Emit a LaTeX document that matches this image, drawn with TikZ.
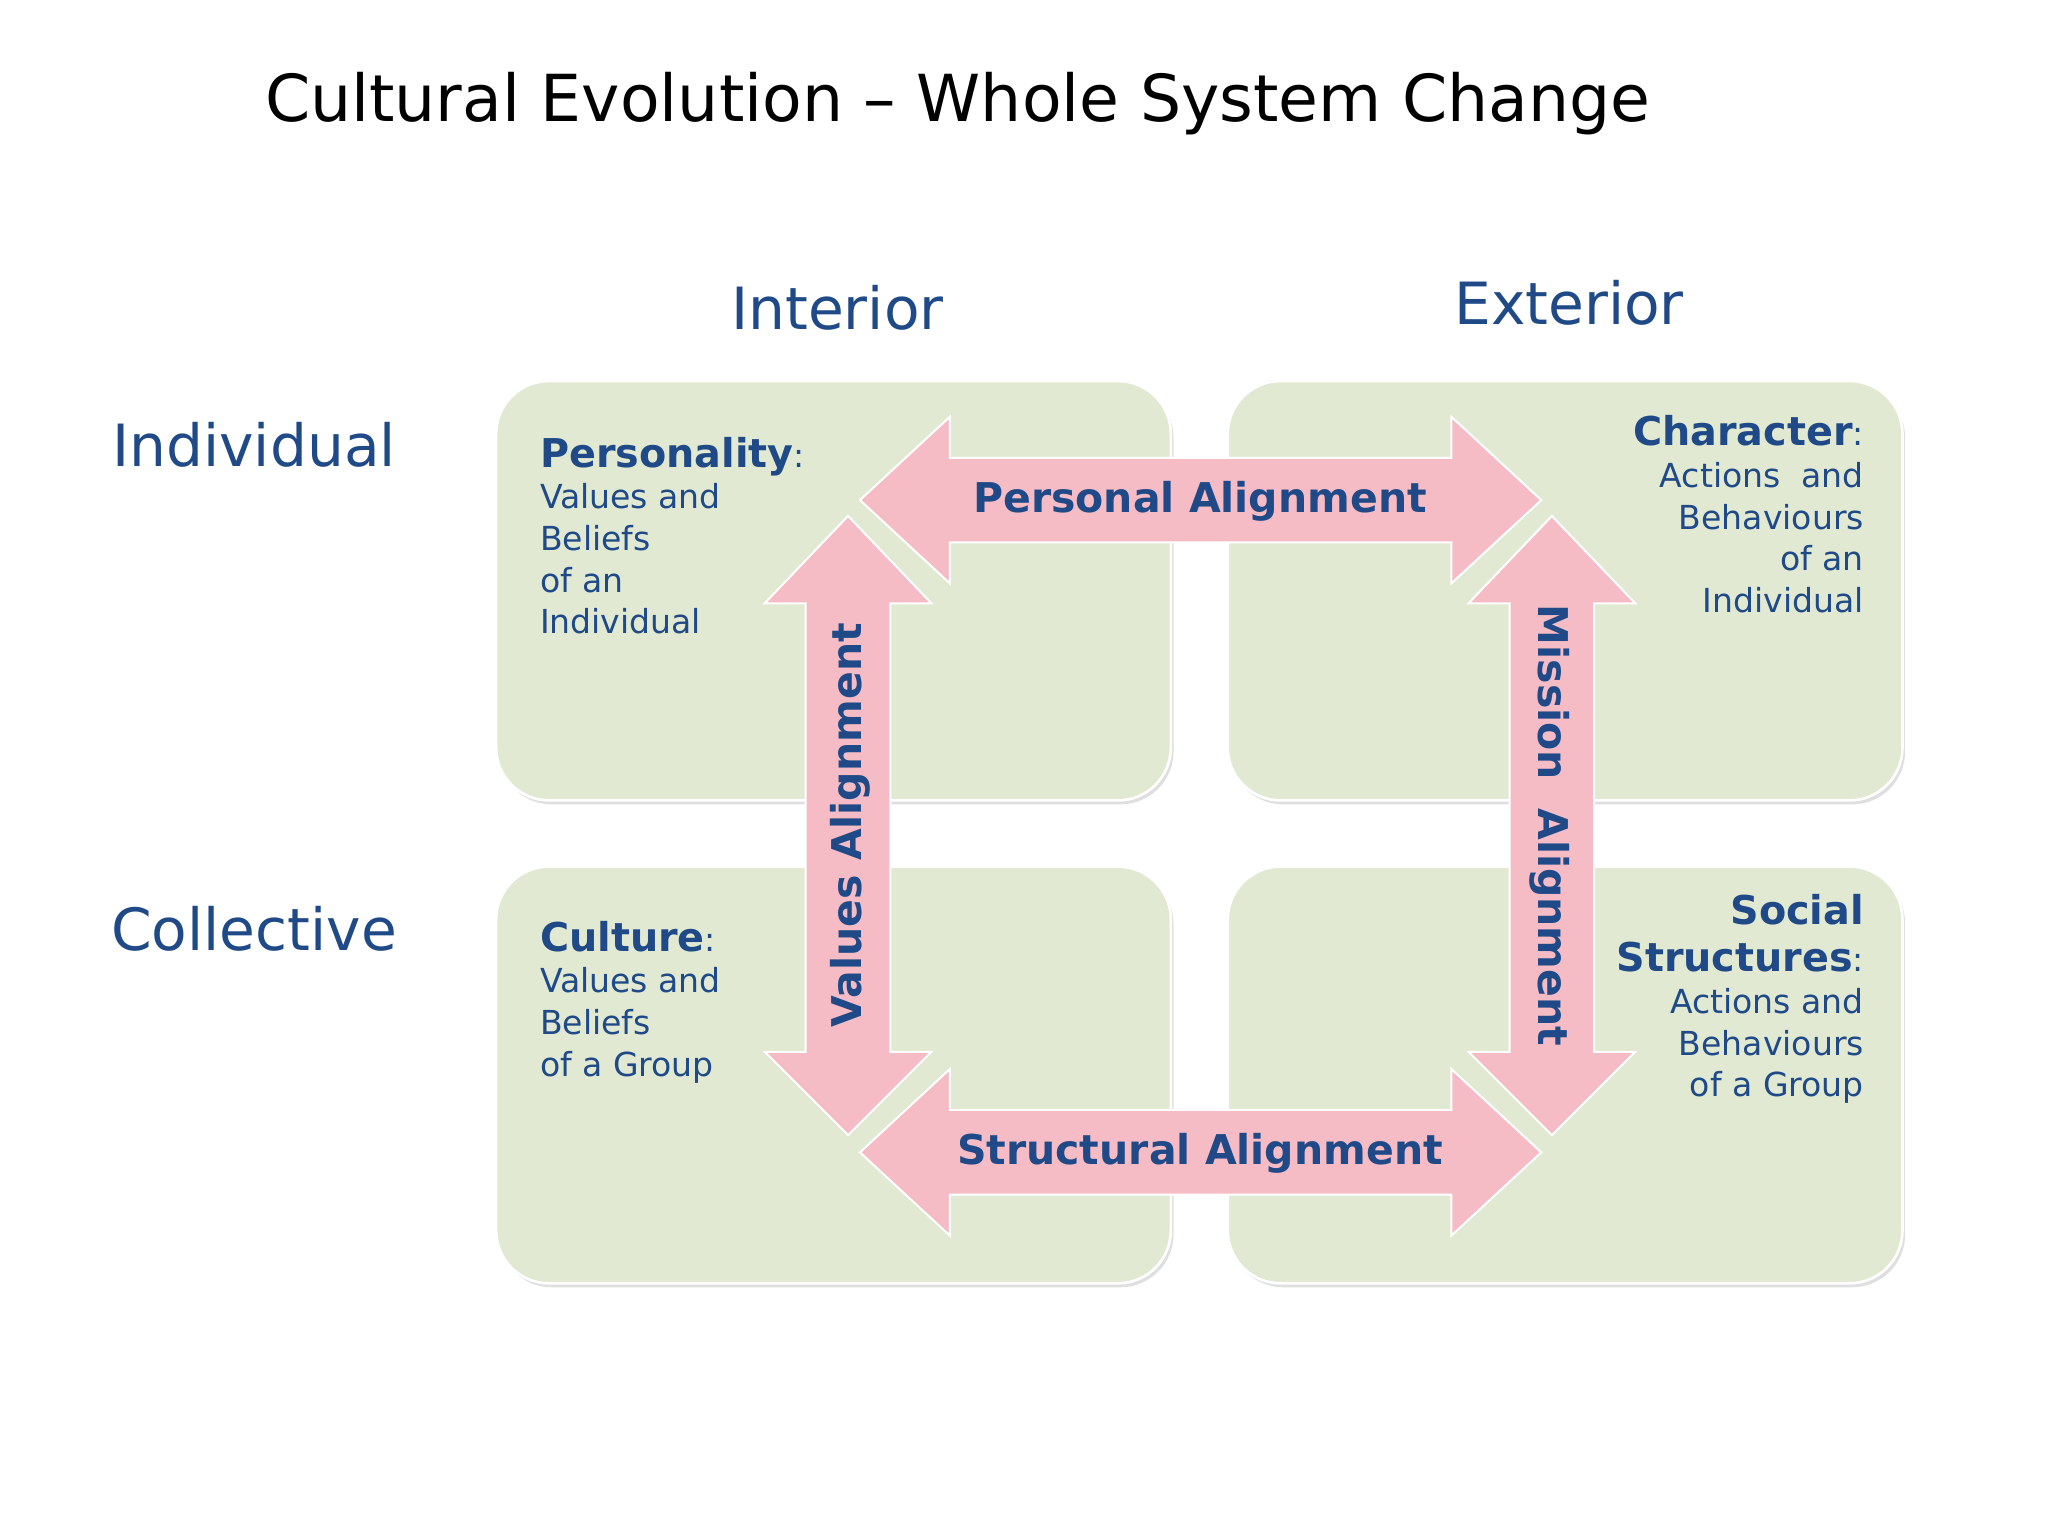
\documentclass[tikz,border=0pt]{standalone}
\usepackage{fontspec}
\setmainfont{DejaVu Sans}
\usetikzlibrary{shadows}
\definecolor{tblue}{HTML}{1F4A87}
\definecolor{bgreen}{HTML}{E1E9D3}
\definecolor{apink}{HTML}{F5BCC6}
\begin{document}
\begin{tikzpicture}[x=1pt,y=-1pt,
  quad/.style={fill=bgreen,draw=white,line width=2pt,rounded corners=40pt,drop shadow={shadow xshift=2pt,shadow yshift=-3pt,opacity=0.25}},
  arr/.style={fill=apink,draw=white,line width=1.5pt},
  lbl/.style={text=tblue,font=\fontsize{31}{36}\selectfont\bfseries,inner sep=0pt},
  side/.style={text=tblue,font=\fontsize{44}{50}\selectfont,inner sep=0pt},
  body/.style={text=tblue,font=\fontsize{25}{31.5}\selectfont,inner sep=0pt}]
\useasboundingbox (0,0) rectangle (1548,1161);
\fill[white] (0,0) rectangle (1548,1161);
\node[inner sep=0pt,font=\fontsize{49}{58}\selectfont] (title) at (724,78) {Cultural Evolution – Whole System Change};
\node[side] (int) at (633,233) {Interior};
\node[side] (ext) at (1186,229) {Exterior};
\node[side] (ind) at (192,336) {Individual};
\node[side] (col) at (192,702) {Collective};
\path[quad] (375,288) rectangle (885,605);
\path[quad] (928,288) rectangle (1438,605);
\path[quad] (375,655) rectangle (885,970);
\path[quad] (928,655) rectangle (1438,970);
% horizontal arrows
\foreach \cy in {378,871}{
 \path[arr] (650,\cy) -- (718,\cy-63) -- (718,\cy-32) -- (1097,\cy-32) -- (1097,\cy-63) -- (1165,\cy)
   -- (1097,\cy+63) -- (1097,\cy+32) -- (718,\cy+32) -- (718,\cy+63) -- cycle;}
\foreach \cx in {641,1173}{
 \path[arr] (\cx,390) -- (\cx+63,456) -- (\cx+32,456) -- (\cx+32,795) -- (\cx+63,795) -- (\cx,858)
   -- (\cx-63,795) -- (\cx-32,795) -- (\cx-32,456) -- (\cx-63,456) -- cycle;}
\node[lbl] (pa) at (907,379) {Personal Alignment};
\node[lbl] (sa) at (907,872) {Structural Alignment};
\node[lbl,rotate=90] (va) at (643,624) {Values Alignment};
\node[lbl,rotate=-90] (ma) at (1171,624) {Mission~ Alignment};
\node[body,anchor=north west,align=left] (pers) at (408,330) {{\fontsize{30}{36}\selectfont\bfseries Personality}:\\Values and\\Beliefs\\of an\\Individual};
\node[body,anchor=north west,align=left] (cult) at (408,696) {{\fontsize{30}{36}\selectfont\bfseries Culture}:\\Values and\\Beliefs\\of a Group};
\node[body,anchor=north east,align=right] (char) at (1409,314) {{\fontsize{30}{36}\selectfont\bfseries Character}:\\Actions~ and\\Behaviours\\of an\\Individual};
\node[body,anchor=north east,align=right] (soc) at (1409,676) {{\fontsize{30}{36}\selectfont\bfseries Social}\\[4pt]{\fontsize{30}{36}\selectfont\bfseries Structures}:\\Actions and\\Behaviours\\of a Group};
\end{tikzpicture}
\end{document}
